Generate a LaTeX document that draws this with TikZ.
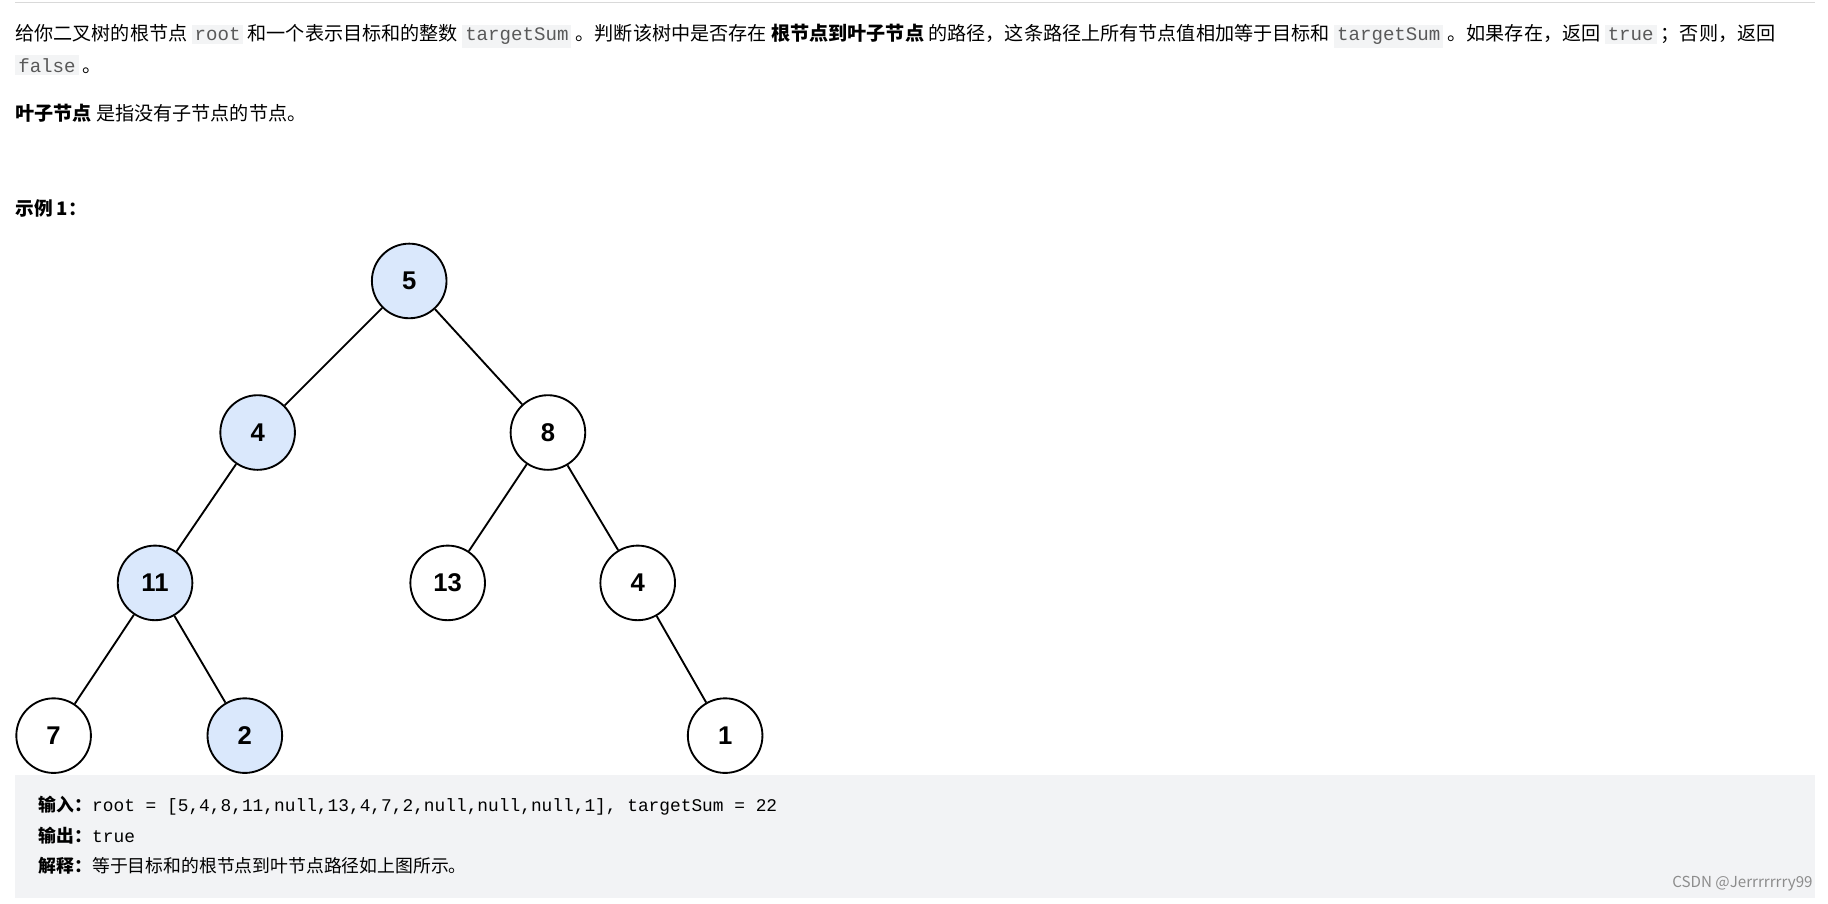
\documentclass[tikz,border=0pt]{standalone}
\usepackage{fontspec}
\setmainfont{Noto Sans CJK SC}
\setmonofont{Liberation Mono}
\newfontfamily\lab{Liberation Sans}
\definecolor{codebg}{HTML}{F3F4F5}
\definecolor{blueA}{HTML}{DAE8FC}
\definecolor{boxbg}{HTML}{F2F3F5}
\newcommand{\cbox}[1]{{\setlength{\fboxsep}{2.5pt}\colorbox{codebg}{\ttfamily\color{black!65}#1}}}
\tikzset{
 tn/.style={circle,draw,line width=1.6pt,minimum size=64pt,inner sep=0pt,font=\lab\fontsize{22}{22}\selectfont\bfseries},
 hl/.style={tn,fill=blueA},
 edge/.style={line width=1.6pt},
 txt/.style={anchor=west,inner sep=0pt,font=\fontsize{16.4}{18}\selectfont}
}
\begin{document}
\begin{tikzpicture}[x=1pt,y=-1pt]
\useasboundingbox[fill=white] (0,0) rectangle (1568,775);
\draw[black!15,line width=1pt] (13,2) -- (1557,2);
\node[txt] (l1) at (13,31) {给你二叉树的根节点 \cbox{root} 和一个表示目标和的整数 \cbox{targetSum} 。判断该树中是否存在 {\bfseries 根节点到叶子节点} 的路径，这条路径上所有节点值相加等于目标和 \cbox{targetSum} 。如果存在，返回 \cbox{true} ；否则，返回};
\node[txt] (l2) at (13,56) {\cbox{false} 。};
\node[txt] (l3) at (13,97) {{\bfseries 叶子节点} 是指没有子节点的节点。};
\node[txt,font=\fontsize{16}{18}\selectfont\bfseries] (ex) at (13,179) {示例 1：};
\node[hl] (n5) at (351,241) {5};
\node[hl] (n4) at (221,371) {4};
\node[tn] (n8) at (470,371) {8};
\node[hl] (n11) at (133,500) {11};
\node[tn] (n13) at (384,500) {13};
\node[tn] (n4b) at (547,500) {4};
\node[tn] (n7) at (46,631) {7};
\node[hl] (n2) at (210,631) {2};
\node[tn] (n1) at (622,631) {1};
\draw[edge] (n5)--(n4) (n5)--(n8) (n4)--(n11) (n8)--(n13) (n8)--(n4b) (n11)--(n7) (n11)--(n2) (n4b)--(n1);
\fill[boxbg] (13,665) rectangle (1557,770);
\node[txt,font=\fontsize{15.3}{16}\selectfont] (o1) at (33,691) {{\bfseries 输入：}\texttt{root = [5,4,8,11,null,13,4,7,2,null,null,null,1], targetSum = 22}};
\node[txt,font=\fontsize{15.3}{16}\selectfont] (o2) at (33,717) {{\bfseries 输出：}\texttt{true}};
\node[txt,font=\fontsize{15.3}{16}\selectfont] (o3) at (33,743) {{\bfseries 解释：}等于目标和的根节点到叶节点路径如上图所示。};
\node[anchor=east,inner sep=0pt,text=black!45,font=\fontsize{13}{15}\selectfont] (wm) at (1555,758) {CSDN @Jerrrrrrry99};
\end{tikzpicture}
\end{document}
